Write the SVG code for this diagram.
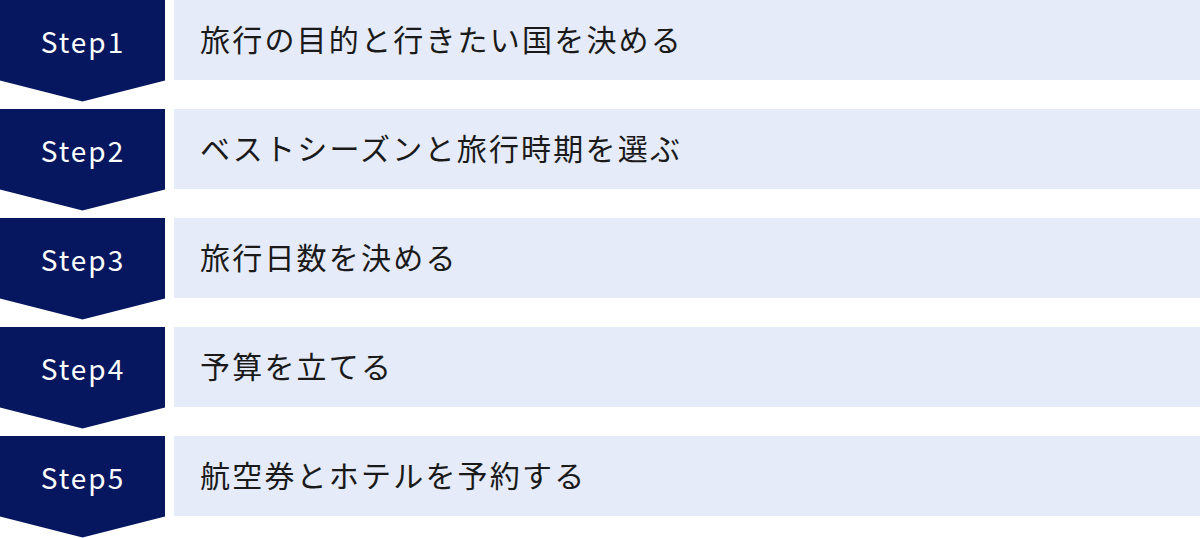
<svg xmlns="http://www.w3.org/2000/svg" width="1200" height="538" viewBox="0 0 1200 538">
<style>
.badge{fill:#061760}
.box{fill:#E5EBF8}
.step{font-family:"Noto Sans CJK JP","Noto Sans",sans-serif;font-size:28px;fill:#ffffff;text-anchor:middle;letter-spacing:2px}
.label{font-family:"Noto Sans CJK JP",sans-serif;font-size:30px;fill:#1a1a1a;letter-spacing:2.2px}
</style>
<defs>
<polygon id="arrow" points="0,0 165,0 165,80.5 82.5,101.5 0,80.5"/>
</defs>
<g id="step1" transform="translate(0,0)">
<use href="#arrow" class="badge"/>
<rect class="box" x="174" y="0" width="1026" height="80"/>
<text class="step" x="83" y="53">Step1</text>
<text class="label" x="200" y="51">旅行の目的と行きたい国を決める</text>
</g>
<g id="step2" transform="translate(0,109)">
<use href="#arrow" class="badge"/>
<rect class="box" x="174" y="0" width="1026" height="80"/>
<text class="step" x="83" y="53">Step2</text>
<text class="label" x="200" y="51">ベストシーズンと旅行時期を選ぶ</text>
</g>
<g id="step3" transform="translate(0,218)">
<use href="#arrow" class="badge"/>
<rect class="box" x="174" y="0" width="1026" height="80"/>
<text class="step" x="83" y="53">Step3</text>
<text class="label" x="200" y="51">旅行日数を決める</text>
</g>
<g id="step4" transform="translate(0,327)">
<use href="#arrow" class="badge"/>
<rect class="box" x="174" y="0" width="1026" height="80"/>
<text class="step" x="83" y="53">Step4</text>
<text class="label" x="200" y="51">予算を立てる</text>
</g>
<g id="step5" transform="translate(0,436)">
<use href="#arrow" class="badge"/>
<rect class="box" x="174" y="0" width="1026" height="80"/>
<text class="step" x="83" y="53">Step5</text>
<text class="label" x="200" y="51">航空券とホテルを予約する</text>
</g>
<g id="connectors"></g>
</svg>
